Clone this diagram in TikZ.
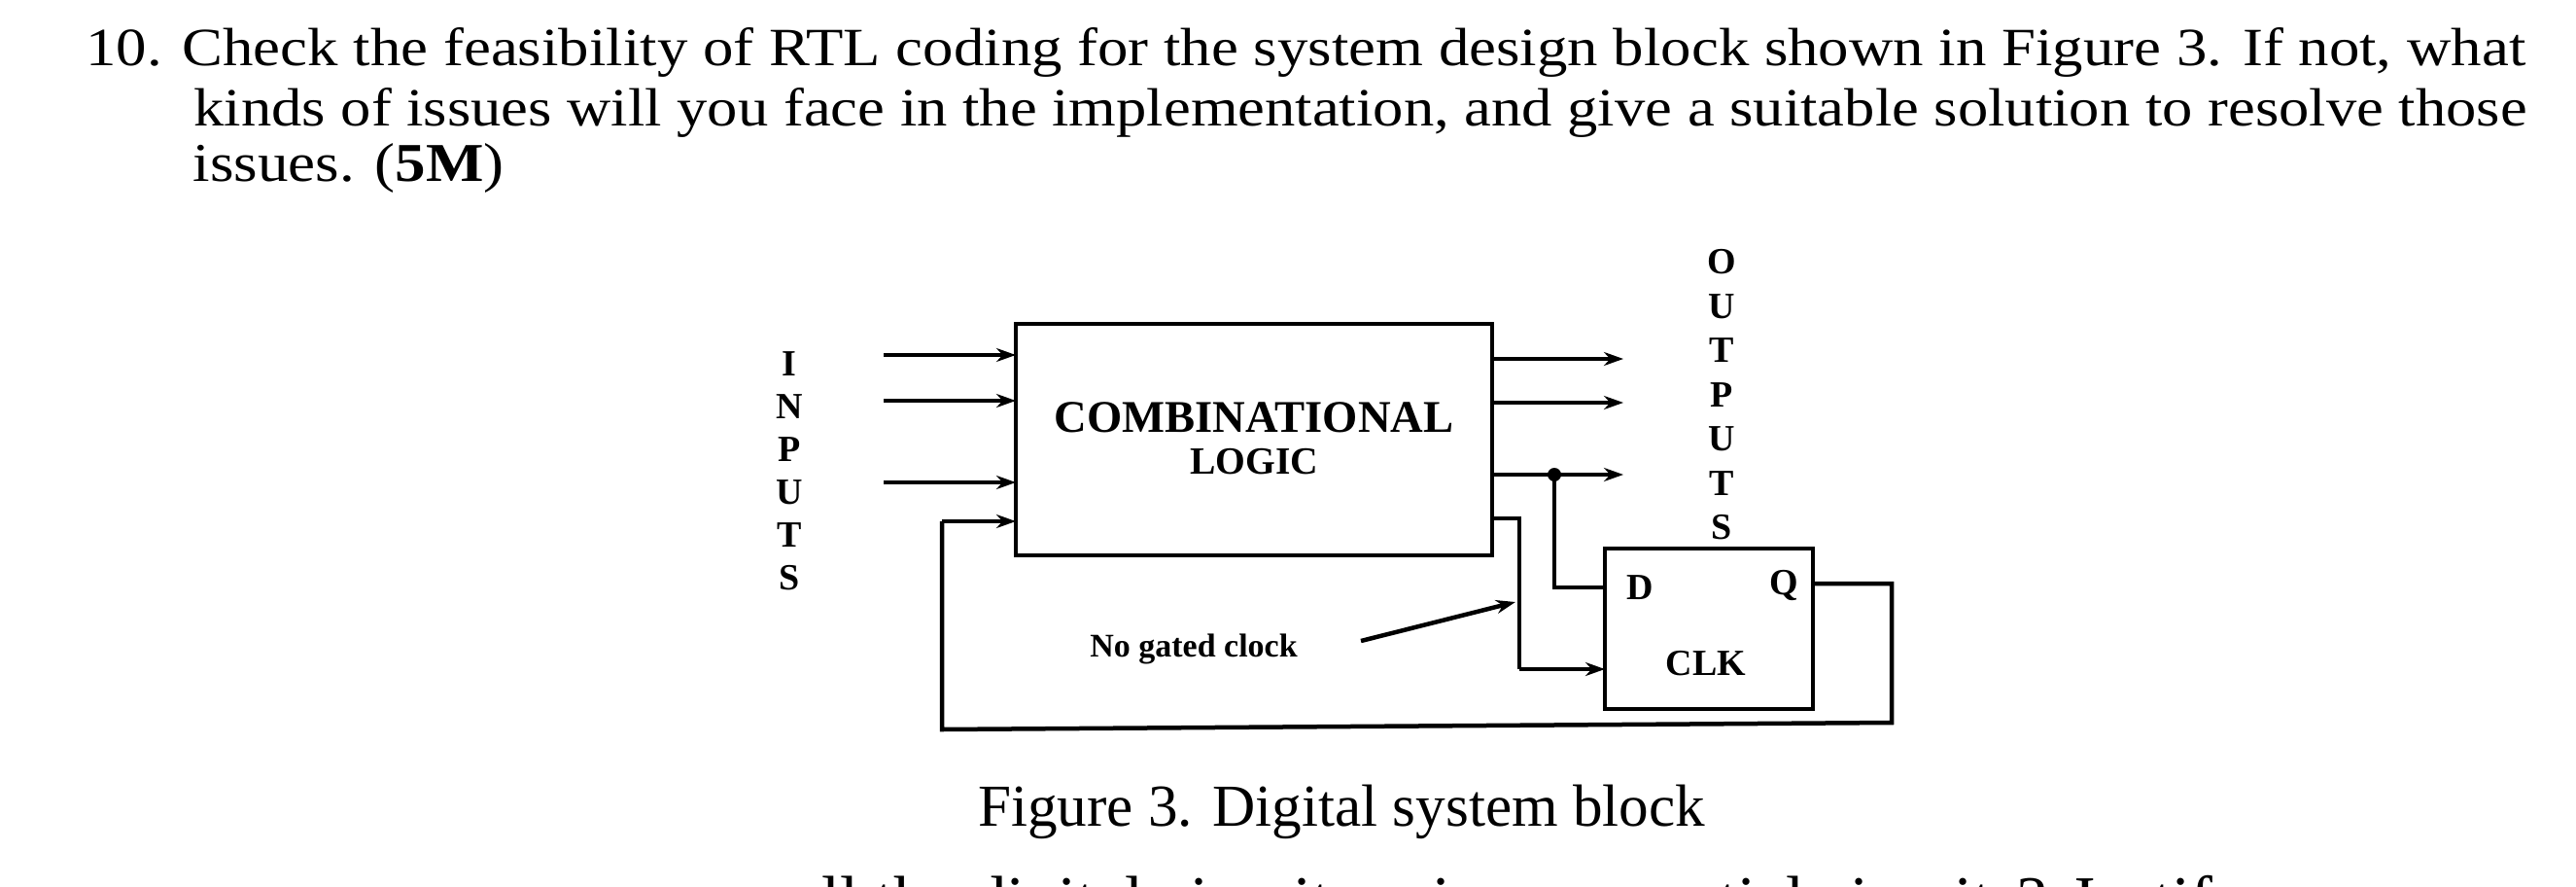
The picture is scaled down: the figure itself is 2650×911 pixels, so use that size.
\documentclass[tikz,border=0pt]{standalone}
\usepackage{fontspec}
\setmainfont{Liberation Serif}
\usetikzlibrary{arrows.meta}
\begin{document}
\begin{tikzpicture}[x=1pt,y=-1pt,
  wire/.style={line width=4.5pt},
  arr/.style={wire,-{Stealth[length=20pt,width=14pt]}},
  lbl/.style={font=\bfseries\fontsize{38}{38}\selectfont,inner sep=0pt},
  qtext/.style={inner sep=0pt,anchor=base west}]
\useasboundingbox (0,0) rectangle (2650,911);
\fill[white] (0,0) rectangle (2650,911);
% question text (slightly rotated as scanned)
\begin{scope}[rotate around={-0.7:(110,68)}]
\node[qtext] (q1) at (88,68) {\resizebox{2510pt}{39pt}{\fontsize{50}{50}\selectfont 10. Check the feasibility of RTL coding for the system design block shown in Figure 3. If not, what}};
\node[qtext] (q2) at (200,128) {\resizebox{2400pt}{39pt}{\fontsize{50}{50}\selectfont kinds of issues will you face in the implementation, and give a suitable solution to resolve those}};
\node[qtext] (q3) at (200,185) {\resizebox{320pt}{39pt}{\fontsize{50}{50}\selectfont issues. (\textbf{5M})}};
\end{scope}
% blocks
\draw[wire] (1045,333) rectangle (1535,571);
\node[lbl] (cl) at (1290,429) {\resizebox{411pt}{!}{COMBINATIONAL}};
\node[lbl] (lg) at (1290,475) {\resizebox{132pt}{!}{LOGIC}};
\draw[wire] (1651,564) rectangle (1865,729);
\node[lbl] (d) at (1687,604) {D};
\node[lbl] (q) at (1835,602) {Q};
\node[lbl] (clk) at (1755,682) {CLK};
% inputs
\foreach \yy in {365,412,496}{\draw[arr] (909,\yy) -- (1045,\yy);}
\foreach \ch [count=\i] in {I,N,P,U,T,S}{\node[lbl] at (812,330+44*\i) {\ch};}
% outputs
\foreach \yy in {369,414,488}{\draw[arr] (1535,\yy) -- (1670,\yy);}
\foreach \ch [count=\i] in {O,U,T,P,U,T,S}{\node[lbl] at (1771,224+45.5*\i) {\ch};}
\fill (1599,488) circle (7pt);
\draw[wire] (1599,488) -- (1599,604) -- (1651,604);
% clock
\draw[wire] (1535,533) -- (1563,533) -- (1563,688);
\draw[arr] (1563,688) -- (1651,688);
% feedback
\draw[wire] (1865,600) -- (1946,600) -- (1946,743) -- (969,750) -- (969,536);
\draw[arr] (969,536) -- (1045,536);
% annotation
\node[lbl,font=\bfseries\fontsize{34}{34}\selectfont] (ng) at (1228,667) {No gated clock};
\draw[wire,-{Stealth[length=20pt,width=14pt]}] (1400,659) -- (1559,619);
% caption
\node[qtext] (cap) at (1006,849) {\resizebox{748pt}{!}{\fontsize{50}{50}\selectfont Figure 3. Digital system block}};
\node[inner sep=0pt,anchor=base east] (q4) at (2665,948) {\resizebox{1850pt}{!}{\fontsize{50}{50}\selectfont all the digital circuits using sequential circuits? Justify your answer}};
\end{tikzpicture}
\end{document}
